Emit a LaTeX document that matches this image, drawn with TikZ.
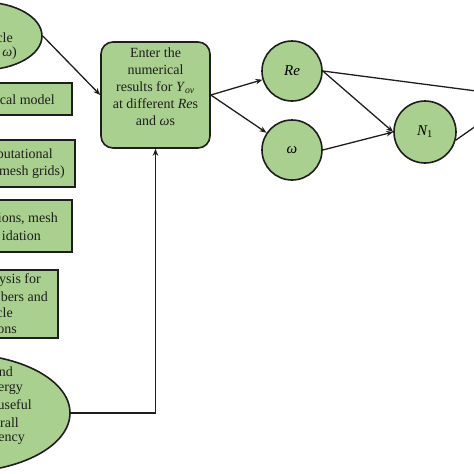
\documentclass[tikz,border=0pt]{standalone}
\usepackage{fontspec}
\setmainfont{Liberation Serif}
\usetikzlibrary{arrows.meta,shapes.geometric}
\definecolor{gfill}{HTML}{A9D08E}
\definecolor{gline}{HTML}{1E1E1E}
\begin{document}
\begin{tikzpicture}[x=1pt,y=-1pt,
  shp/.style={fill=gfill, draw=gline, line width=1.6pt, inner sep=0pt},
  circ/.style={shp, circle, minimum size=60pt, font=\fontsize{15}{17}\selectfont\itshape},
  oval/.style={shp, ellipse},
  sqbox/.style={shp, rectangle},
  lbl/.style={anchor=east, inner sep=0pt, font=\fontsize{14}{17}\selectfont, text=gline},
  conn/.style={draw=gline, line width=1.3pt, -{Stealth[length=7pt,width=5.5pt]}},
  plain/.style={draw=gline, line width=1.3pt}]
\useasboundingbox (0,0) rectangle (474,474);
\clip (0,0) rectangle (474,474);

% left column (cut by the frame)
\node[oval, minimum width=120pt, minimum height=68pt] (ellA) at (-18,36) {};
\node[lbl] (tA1) at (13,38) {cle};
\node[lbl] (tA2) at (17,53) {\textit{ω})};

\node[sqbox, minimum width=132pt, minimum height=32pt] (b1) at (6,99) {};
\node[lbl] (t11) at (55,100) {cal model};

\node[sqbox, minimum width=135pt, minimum height=47pt] (b2) at (7.5,163.5) {};
\node[lbl] (t21) at (53,155) {putational};
\node[lbl] (t22) at (65,172) {(mesh grids)};

\node[sqbox, minimum width=132pt, minimum height=52pt] (b3) at (6,226) {};
\node[lbl] (t31) at (58,219) {ions, mesh};
\node[lbl] (t32) at (41,236) {idation};

\node[sqbox, minimum width=118pt, minimum height=68pt] (b4) at (-1,304) {};
\node[lbl] (t41) at (41,280) {ysis for};
\node[lbl] (t42) at (48,297) {bers and};
\node[lbl] (t43) at (13,313) {cle};
\node[lbl] (t44) at (17,330) {ons};

\node[oval, minimum width=220pt, minimum height=118pt] (ellB) at (-40,413) {};
\node[lbl] (tB1) at (13,372) {nd};
\node[lbl] (tB2) at (23,389) {ergy};
\node[lbl] (tB3) at (32,405) {useful};
\node[lbl] (tB4) at (19,423) {rall};
\node[lbl] (tB5) at (25,440) {ency};

% central box
\node[sqbox, rounded corners=12pt, minimum width=109pt, minimum height=106pt] (box) at (155.5,95) {};
\node[inner sep=0pt, align=center, text=gline, font=\fontsize{14}{17}\selectfont] (boxtxt) at (155.5,87)
  {Enter the\\numerical\\results for \textit{Y}\textsubscript{\textit{ov}}\\at different \textit{Re}s\\and \textit{ω}s};

% network
\node[circ] (Re) at (292,71) {Re};
\node[circ] (om) at (292,150) {ω};
\node[circ, minimum size=62pt] (N1) at (425,132) {N\textsubscript{\upshape 1}};
\coordinate (outA) at (530,98);
\coordinate (outB) at (500,109);

% connectors
\draw[conn] (ellA.east) -- (box.west);
\draw[conn] (ellB.east) -| (box.south);
\draw[conn] (box.east) -- (Re);
\draw[conn] (box.east) -- (om);
\draw[conn] (Re.east) -- (N1.west);
\draw[conn] (om.east) -- (N1.west);
\draw[plain] (Re.east) -- (outA);
\draw[plain] (N1.-15) -- (outB);
\end{tikzpicture}
\end{document}
